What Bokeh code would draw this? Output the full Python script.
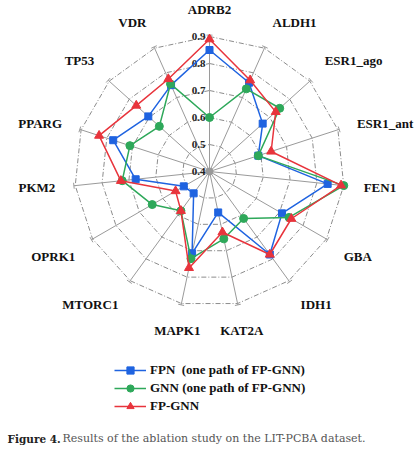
import numpy as np
from bokeh.plotting import figure
from bokeh.models import Range1d, Legend, LegendItem, Label, ColumnDataSource
from bokeh.core.properties import value
from bokeh.embed import file_html
from bokeh.resources import INLINE

# targets on the radar, clockwise from the top
targets = ["ADRB2", "ALDH1", "ESR1_ago", "ESR1_ant", "FEN1", "GBA", "IDH1", "KAT2A",
           "MAPK1", "MTORC1", "OPRK1", "PKM2", "PPARG", "TP53", "VDR"]

fpn = [0.85, 0.76, 0.665, 0.59, 0.84, 0.71, 0.78, 0.555, 0.71, 0.50, 0.51, 0.675, 0.775, 0.705, 0.75]
gnn = [0.60, 0.735, 0.75, 0.59, 0.90, 0.74, 0.615, 0.655, 0.73, 0.58, 0.645, 0.725, 0.71, 0.65, 0.755]
fp_gnn = [0.89, 0.77, 0.73, 0.64, 0.89, 0.75, 0.78, 0.63, 0.765, 0.58, 0.545, 0.73, 0.83, 0.765, 0.775]

levels = [0.4, 0.5, 0.6, 0.7, 0.8, 0.9]
r_min = 0.4
px_per_unit = 270.0   # radius in screen px for one unit of score

n = len(targets)
theta = np.deg2rad(90 - 360.0 / n * np.arange(n))


def to_xy(vals):
    r = (np.asarray(vals, dtype=float) - r_min) * px_per_unit
    return r * np.cos(theta), r * np.sin(theta)


W, H = 417, 449
cx, cy = 209, 171   # radar centre in screen px from the top-left
p = figure(width=W, height=H, x_range=Range1d(-cx, W - cx), y_range=Range1d(cy - H, cy),
           output_backend="svg", toolbar_location=None, min_border=0)
p.axis.visible = False
p.grid.visible = False
p.outline_line_color = None

# rings (dash-dot polygons)
ring_xs, ring_ys = [], []
for lv in levels[1:]:
    rx, ry = to_xy([lv] * n)
    ring_xs.append(list(rx) + [rx[0]])
    ring_ys.append(list(ry) + [ry[0]])
p.multi_line(ring_xs, ring_ys, line_color="#8c8c8c", line_width=1, line_dash="5 2 1 2")

# spokes with a small tick at the end
r_end = (0.905 - r_min) * px_per_unit
ex, ey = r_end * np.cos(theta), r_end * np.sin(theta)
p.multi_line([[0, a] for a in ex], [[0, b] for b in ey], line_color="#9a9a9a", line_width=1)
tx, ty = -np.sin(theta) * 3, np.cos(theta) * 3
p.multi_line([[a - c, a + c] for a, c in zip(ex, tx)], [[b - d, b + d] for b, d in zip(ey, ty)],
             line_color="#9a9a9a", line_width=1)
p.scatter([0], [0], size=7, color="#999999")

# radial tick labels along the ADRB2 spoke
p.text(x=[-4] * len(levels), y=[(lv - r_min) * px_per_unit for lv in levels],
       text=["%.1f" % lv for lv in levels], text_align="right", text_baseline="middle",
       text_font=value("Liberation Serif"), text_font_style="bold", text_font_size="11px",
       text_color="#222222")

# category labels
r_lab = 155.0
lab_align, lab_base = [], []
for t in theta:
    c, s = np.cos(t), np.sin(t)
    lab_align.append("center" if abs(c) < 0.3 else ("left" if c > 0 else "right"))
    lab_base.append("middle" if abs(s) < 0.45 else ("bottom" if s > 0 else "top"))
lab_src = ColumnDataSource(dict(x=r_lab * np.cos(theta), y=r_lab * np.sin(theta), text=targets,
                                align=lab_align, base=lab_base))
p.text(x="x", y="y", text="text", source=lab_src, text_align="align", text_baseline="base",
       text_font=value("Liberation Serif"), text_font_style="bold", text_font_size="13px",
       text_color="#111111")

series = [
    ("FPN\u00a0 (one path of FP-GNN)", fpn, "#1f63e0", "square", 7),
    ("GNN (one path of FP-GNN)", gnn, "#2ea85a", "circle", 8),
    ("FP-GNN", fp_gnn, "#e8343c", "triangle", 9),
]
items = []
for name, vals, col, mk, sz in series:
    x, y = to_xy(vals)
    ln = p.line(list(x) + [x[0]], list(y) + [y[0]], line_color=col, line_width=1.5)
    sc = p.scatter(x, y, marker=mk, size=sz, color=col)
    items.append(LegendItem(label=name, renderers=[ln, sc]))

legend = Legend(items=items, location=(114, 34), orientation="vertical", glyph_width=32,
                glyph_height=18, label_height=18, label_standoff=4, spacing=0, padding=0, margin=0,
                border_line_alpha=0, background_fill_alpha=0,
                label_text_font="Liberation Serif", label_text_font_style="bold",
                label_text_font_size="13px", label_text_color="#111111")
p.add_layout(legend)

p.add_layout(Label(x=7, y=11, x_units="screen", y_units="screen", text="Figure 4.",
                   text_font="DejaVu Serif", text_font_style="bold", text_font_size="10.5px",
                   text_color="#222222", text_baseline="middle"))
p.add_layout(Label(x=62, y=11, x_units="screen", y_units="screen",
                   text="Results of the ablation study on the LIT-PCBA dataset.",
                   text_font="DejaVu Serif", text_font_size="11px",
                   text_color="#555555", text_baseline="middle"))

open("out.html", "w").write(file_html(p, INLINE))
